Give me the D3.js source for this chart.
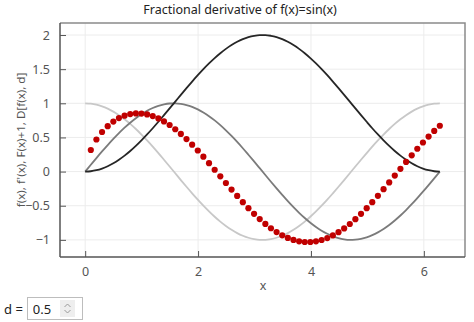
<!DOCTYPE html>
<html>
<head>
<meta charset="utf-8">
<script src="https://cdn.jsdelivr.net/npm/d3@7"></script>
<style>
  html, body { margin: 0; padding: 0; background: #fff; }
  body { width: 474px; height: 322px; position: relative; overflow: hidden; font-family: "Noto Sans", "Open Sans", sans-serif; }
  svg { position: absolute; left: 0; top: 0; }
  .ctrl { position: absolute; left: 4px; top: 297px; height: 23px; display: flex; align-items: center; font-size: 13px; color: #222; }
  .ctrl label { margin-right: 4px; }
  .box { position: relative; width: 54px; height: 21px; border: 1px solid #bdbdbd; box-sizing: content-box; background: #fff; }
  .box input { position: absolute; left: 0; top: 0; width: 30px; height: 21px; border: 0; padding: 0 0 0 5px; margin: 0; font: inherit; font-size: 13px; color: #222; background: transparent; outline: none; -moz-appearance: textfield; }
  .box input::-webkit-inner-spin-button, .box input::-webkit-outer-spin-button { -webkit-appearance: none; margin: 0; }
  .spin { position: absolute; left: 32px; top: 2px; width: 15px; height: 17px; background: #eeeeee; }
</style>
</head>
<body>
<svg id="chart" width="474" height="296"></svg>
<div class="ctrl">
  <label for="d">d =</label>
  <div class="box">
    <input id="d" type="number" value="0.5" step="0.1">
    <svg class="spin" width="15" height="17" viewBox="0 0 15 17">
      <path d="M4.5 7 L7.5 4 L10.5 7" fill="none" stroke="#9a9a9a" stroke-width="1"/>
      <path d="M4.5 10 L7.5 13 L10.5 10" fill="none" stroke="#9a9a9a" stroke-width="1"/>
    </svg>
  </div>
</div>
<script>
// Sample grid: 64 points from 0 to 2*pi (step 2*pi/63)
const xs = [0.000,0.100,0.199,0.299,0.399,0.499,0.598,0.698,0.798,0.898,0.997,1.097,1.197,1.297,1.396,1.496,
            1.596,1.695,1.795,1.895,1.995,2.094,2.194,2.294,2.394,2.493,2.593,2.693,2.793,2.892,2.992,3.092,
            3.192,3.291,3.391,3.491,3.590,3.690,3.790,3.890,3.989,4.089,4.189,4.289,4.388,4.488,4.588,4.688,
            4.787,4.887,4.987,5.086,5.186,5.286,5.386,5.485,5.585,5.685,5.785,5.884,5.984,6.084,6.184,6.283];

// f(x) = sin(x)
const fVals = [0.0000,0.0996,0.1981,0.2948,0.3884,0.4783,0.5633,0.6428,0.7159,0.7818,0.8400,0.8899,0.9309,0.9626,0.9848,0.9972,
               0.9997,0.9922,0.9749,0.9479,0.9115,0.8660,0.8119,0.7498,0.6802,0.6039,0.5216,0.4339,0.3420,0.2468,0.1490,0.0498,
               -0.0498,-0.1490,-0.2468,-0.3420,-0.4339,-0.5216,-0.6039,-0.6802,-0.7498,-0.8119,-0.8660,-0.9115,-0.9479,-0.9749,-0.9922,-0.9997,
               -0.9972,-0.9848,-0.9626,-0.9309,-0.8899,-0.8400,-0.7818,-0.7159,-0.6428,-0.5633,-0.4783,-0.3884,-0.2948,-0.1981,-0.0996,0.0000];

// f'(x) = cos(x)
const dfVals = [1.0000,0.9950,0.9802,0.9556,0.9215,0.8782,0.8262,0.7660,0.6982,0.6235,0.5425,0.4562,0.3653,0.2708,0.1736,0.0747,
                -0.0249,-0.1243,-0.2225,-0.3185,-0.4113,-0.5000,-0.5837,-0.6617,-0.7331,-0.7971,-0.8532,-0.9010,-0.9397,-0.9691,-0.9888,-0.9988,
                -0.9988,-0.9888,-0.9691,-0.9397,-0.9010,-0.8532,-0.7971,-0.7331,-0.6617,-0.5837,-0.5000,-0.4113,-0.3185,-0.2225,-0.1243,-0.0249,
                0.0747,0.1736,0.2708,0.3653,0.4562,0.5425,0.6235,0.6982,0.7660,0.8262,0.8782,0.9215,0.9556,0.9802,0.9950,1.0000];

// F(x) + 1 = 1 - cos(x)
const FVals = [0.0000,0.0050,0.0198,0.0444,0.0785,0.1218,0.1738,0.2340,0.3018,0.3765,0.4575,0.5438,0.6347,0.7292,0.8264,0.9253,
               1.0249,1.1243,1.2225,1.3185,1.4113,1.5000,1.5837,1.6617,1.7331,1.7971,1.8532,1.9010,1.9397,1.9691,1.9888,1.9988,
               1.9988,1.9888,1.9691,1.9397,1.9010,1.8532,1.7971,1.7331,1.6617,1.5837,1.5000,1.4113,1.3185,1.2225,1.1243,1.0249,
               0.9253,0.8264,0.7292,0.6347,0.5438,0.4575,0.3765,0.3018,0.2340,0.1738,0.1218,0.0785,0.0444,0.0198,0.0050,0.0000];

// D[f(x), d] for d = 0.5, Grunwald-Letnikov values at xs[1..63]
const fracVals = [0.316,0.470,0.580,0.665,0.732,0.783,0.819,0.842,0.852,0.850,0.837,0.813,0.779,0.735,0.682,
                  0.620,0.552,0.476,0.394,0.309,0.219,0.123,0.027,-0.070,-0.167,-0.263,-0.357,-0.448,-0.536,-0.618,
                  -0.695,-0.766,-0.830,-0.886,-0.933,-0.972,-1.001,-1.021,-1.031,-1.031,-1.022,-1.002,-0.974,-0.935,-0.888,
                  -0.832,-0.768,-0.697,-0.619,-0.536,-0.448,-0.355,-0.258,-0.159,-0.059,0.041,0.141,0.238,0.334,0.426,
                  0.513,0.595,0.671];

const xTicks = [0, 2, 4, 6];
const yTicks = [-1, -0.5, 0, 0.5, 1, 1.5, 2];
const yTickLabels = ["\u22121", "\u22120.5", "0", "0.5", "1", "1.5", "2"];

const titleText = "Fractional derivative of f(x)=sin(x)";
const xLabel = "x";
const yLabel = "f(x), f'(x), F(x)+1, D[f(x), d]";

const plot = { left: 60, right: 465, top: 23, bottom: 257 };

const svg = d3.select("#chart");
const x = d3.scaleLinear().domain([-0.446, 6.729]).range([plot.left, plot.right]);
const y = d3.scaleLinear().domain([-1.251, 2.176]).range([plot.bottom, plot.top]);

// grid
const grid = svg.append("g");
grid.selectAll("line.gx").data(xTicks).join("line")
  .attr("x1", d => x(d)).attr("x2", d => x(d))
  .attr("y1", plot.top).attr("y2", plot.bottom)
  .attr("stroke", "#ececec").attr("stroke-width", 1);
grid.selectAll("line.gy").data(yTicks).join("line")
  .attr("y1", d => y(d)).attr("y2", d => y(d))
  .attr("x1", plot.left).attr("x2", plot.right)
  .attr("stroke", "#ececec").attr("stroke-width", 1);

// curves
svg.append("clipPath").attr("id", "clip").append("rect")
  .attr("x", plot.left).attr("y", plot.top)
  .attr("width", plot.right - plot.left).attr("height", plot.bottom - plot.top);
const layer = svg.append("g").attr("clip-path", "url(#clip)");

const lineOf = vals => d3.line()
  .x((d, i) => x(xs[i]))
  .y(d => y(d))
  .curve(d3.curveMonotoneX)(vals);

layer.append("path").attr("d", lineOf(dfVals))
  .attr("fill", "none").attr("stroke", "#c8c8c8").attr("stroke-width", 1.8);
layer.append("path").attr("d", lineOf(fVals))
  .attr("fill", "none").attr("stroke", "#7b7b7b").attr("stroke-width", 1.8);
layer.append("path").attr("d", lineOf(FVals))
  .attr("fill", "none").attr("stroke", "#262626").attr("stroke-width", 1.8);

layer.selectAll("circle").data(fracVals).join("circle")
  .attr("cx", (d, i) => x(xs[i + 1]))
  .attr("cy", d => y(d))
  .attr("r", 3.1)
  .attr("fill", "#c00000");

// frame: top and right
svg.append("path")
  .attr("d", `M${plot.left},${plot.top}H${plot.right}V${plot.bottom}`)
  .attr("fill", "none").attr("stroke", "#8a8a8a").attr("stroke-width", 1.5);

// axes with inward ticks
const xAxis = d3.axisBottom(x).tickValues(xTicks).tickFormat(d3.format("d")).tickSizeInner(-6).tickSizeOuter(0).tickPadding(10);
const gx = svg.append("g").attr("transform", `translate(0,${plot.bottom})`).call(xAxis);
gx.select(".domain").attr("stroke", "#555").attr("stroke-width", 1.5)
  .attr("d", `M${plot.left},0H${plot.right}`);
gx.selectAll(".tick line").attr("stroke", "#555");
gx.selectAll(".tick text").attr("fill", "#555").style("font-size", "12.5px").style("font-family", "Noto Sans, sans-serif");

const yAxis = d3.axisLeft(y).tickValues(yTicks).tickFormat((d, i) => yTickLabels[i]).tickSizeInner(-6).tickSizeOuter(0).tickPadding(10);
const gy = svg.append("g").attr("transform", `translate(${plot.left},0)`).call(yAxis);
gy.select(".domain").attr("stroke", "#555").attr("stroke-width", 1.5)
  .attr("d", `M0,${plot.top}V${plot.bottom}`);
gy.selectAll(".tick line").attr("stroke", "#555");
gy.selectAll(".tick text").attr("fill", "#555").style("font-size", "12.5px").style("font-family", "Noto Sans, sans-serif");

// labels
svg.append("text").attr("x", 240).attr("y", 14).attr("text-anchor", "middle")
  .attr("fill", "#222").style("font-size", "12.5px").style("font-family", "Noto Sans, sans-serif")
  .text(titleText);
svg.append("text").attr("x", 263).attr("y", 290).attr("text-anchor", "middle")
  .attr("fill", "#555").style("font-size", "12.5px").style("font-family", "Noto Sans, sans-serif")
  .text(xLabel);
svg.append("text").attr("transform", `translate(25,${(plot.top + plot.bottom) / 2}) rotate(-90)`)
  .attr("text-anchor", "middle")
  .attr("fill", "#555").style("font-size", "11.6px").style("font-family", "Noto Sans, sans-serif")
  .text(yLabel);
</script>
</body>
</html>
